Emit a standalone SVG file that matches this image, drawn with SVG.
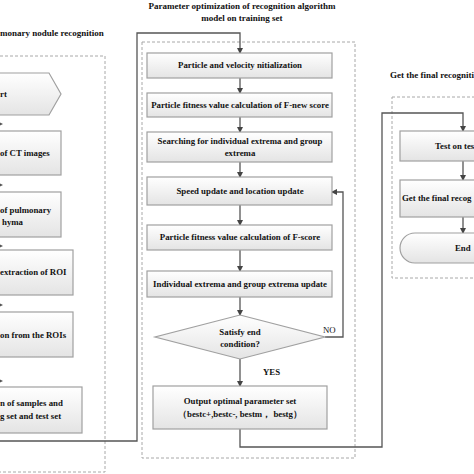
<svg xmlns="http://www.w3.org/2000/svg" width="474" height="474" viewBox="0 0 474 474">
<defs>
<linearGradient id="g" x1="0" y1="0" x2="0" y2="1">
<stop offset="0" stop-color="#ffffff"/>
<stop offset="1" stop-color="#e4e4e4"/>
</linearGradient>
<marker id="ah" markerWidth="6" markerHeight="6" refX="5" refY="3" orient="auto" markerUnits="userSpaceOnUse">
<path d="M0,0 L6,3 L0,6 z" fill="#444"/>
</marker>
</defs>
<style>
.box{fill:url(#g);stroke:#a0a0a0;stroke-width:1.2}
.panel{fill:none;stroke:#a8a8a8;stroke-width:1;stroke-dasharray:3,2}
.c{fill:none;stroke:#555;stroke-width:1.3}
.ca{fill:none;stroke:#555;stroke-width:1.3;marker-end:url(#ah)}
text{font-family:"Liberation Serif","Times New Roman",serif;font-weight:bold;font-size:8.8px;fill:#111}
.m{text-anchor:middle}
.t{font-size:9px}
.n{font-weight:normal}
</style>
<rect width="474" height="474" fill="#fff"/>
<g id="panels">
<rect class="panel" x="-10" y="56" width="115" height="416"/>
<rect class="panel" x="142" y="42" width="213" height="416"/>
<rect class="panel" x="392" y="97" width="100" height="181"/>
<text class="t" x="0" y="36">monary nodule recognition</text>
<text class="t m" x="242" y="9">Parameter optimization of recognition algorithm</text>
<text class="t m" x="242" y="21">model on training set</text>
<text class="t" x="390" y="78">Get the final recogniti</text>
</g>
<g id="connectors">
<path class="ca" d="M-5,441 H137 V33 H240 V53"/>
<path class="ca" d="M240,78 V93"/>
<path class="ca" d="M240,117 V132"/>
<path class="ca" d="M240,162 V177"/>
<path class="ca" d="M240,205 V225"/>
<path class="ca" d="M240,250 V271"/>
<path class="ca" d="M240,297 V315"/>
<path class="ca" d="M240,359 V386"/>
<path class="ca" d="M325,337 H343 V192 H332"/>
<path class="ca" d="M240,429 V447 H382 V113 H463 V131"/>
<path class="ca" d="M463,161 V180"/>
<path class="ca" d="M463,217 V233"/>
<path d="M-3,121 L3,124 L-3,127 z" fill="#555"/>
<path d="M-3,182 L3,185 L-3,188 z" fill="#555"/>
<path d="M-3,243 L3,246 L-3,249 z" fill="#555"/>
<path d="M-3,302 L3,305 L-3,308 z" fill="#555"/>
<path d="M-3,378 L3,381 L-3,384 z" fill="#555"/>
<text class="n" x="323" y="333">NO</text>
<text x="263" y="375">YES</text>
</g>
<g id="start"><path class="box" d="M-60,73 H49 L61,94 L49,115 H-60 z"/><text x="0" y="97">rt</text></g>
<g id="ct"><rect class="box" x="-60" y="131" width="121" height="44"/><text x="0" y="156">of CT images</text></g>
<g id="parenchyma"><rect class="box" x="-60" y="192" width="121" height="45"/><text x="0" y="213">of pulmonary</text><text x="2" y="225">hyma</text></g>
<g id="roi"><rect class="box" x="-60" y="250" width="133" height="45"/><text x="0" y="275">extraction of ROI</text></g>
<g id="features"><rect class="box" x="-60" y="312" width="133" height="45"/><text x="0" y="338">on from the ROIs</text></g>
<g id="split"><rect class="box" x="-60" y="387" width="142" height="46"/><text x="0" y="406">n of samples and</text><text x="0" y="419">g set and test set</text></g>
<g id="init"><rect class="box" x="147" y="53" width="185" height="25"/><text class="m" x="240" y="68">Particle and velocity nitialization</text></g>
<g id="fnew"><rect class="box" x="147" y="93" width="185" height="24"/><text class="m" x="240" y="108">Particle fitness value calculation of F-new score</text></g>
<g id="search"><rect class="box" x="147" y="132" width="185" height="30"/><text class="m" x="240" y="144">Searching for individual extrema and group</text><text class="m" x="240" y="156">extrema</text></g>
<g id="speed"><rect class="box" x="147" y="177" width="185" height="28"/><text class="m" x="240" y="194">Speed update and location update</text></g>
<g id="fscore"><rect class="box" x="147" y="225" width="185" height="25"/><text class="m" x="240" y="240">Particle fitness value calculation of F-score</text></g>
<g id="update"><rect class="box" x="147" y="271" width="185" height="26"/><text class="m" x="240" y="287">Individual extrema and group extrema update</text></g>
<g id="cond"><path class="box" d="M240,315 L325,337 L240,359 L155,337 z"/><text class="m" x="240" y="335">Satisfy end</text><text class="m" x="240" y="347">condition?</text></g>
<g id="output"><rect class="box" x="153" y="386" width="174" height="43"/><text class="m" x="240" y="404">Output optimal parameter set</text><text class="m" x="240" y="417">（bestc+,bestc-, bestm， bestg）</text></g>
<g id="test"><rect class="box" x="400" y="131" width="90" height="30"/><text x="435" y="149">Test on tes</text></g>
<g id="final"><rect class="box" x="400" y="180" width="90" height="37"/><text x="402" y="201">Get the final recog</text></g>
<g id="end"><rect class="box" x="400" y="233" width="100" height="30" rx="15"/><text x="455" y="251">End</text></g>
</svg>
